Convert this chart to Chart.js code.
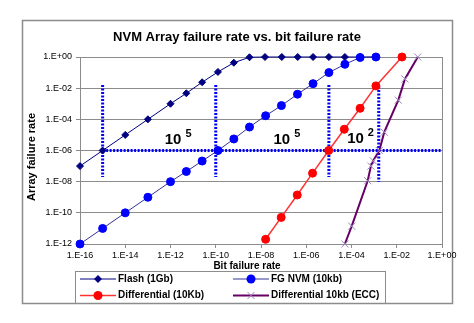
<!DOCTYPE html>
<html lang="en">
<head>
    <meta charset="UTF-8">
    <title>NVM Array failure rate vs. bit failure rate</title>
    <script src="https://cdn.jsdelivr.net/npm/chart.js"></script>
    <style>
        body {
            margin: 0;
            padding: 0;
            background: #ffffff;
        }
        canvas {
            display: block;
        }
    </style>
</head>
<body>
    <canvas id="failChart" width="474" height="323"></canvas>

    <script>
        // tick values / labels (every 2 decades)
        var xTickValues = [1e-16, 1e-14, 1e-12, 1e-10, 1e-8, 1e-6, 1e-4, 1e-2, 1];
        var xTickLabels = ['1.E-16', '1.E-14', '1.E-12', '1.E-10', '1.E-08', '1.E-06', '1.E-04', '1.E-02', '1.E+00'];
        var yTickValues = [1, 1e-2, 1e-4, 1e-6, 1e-8, 1e-10, 1e-12];
        var yTickLabels = ['1.E+00', '1.E-02', '1.E-04', '1.E-06', '1.E-08', '1.E-10', '1.E-12'];

        // Flash (1Gb)
        var flashX = [1e-16, 1e-15, 1e-14, 1e-13, 1e-12, 5e-12, 2.5e-11, 1.25e-10, 6.3e-10, 3.1e-9, 1.5e-8, 8.3e-8, 4.2e-7, 2e-6, 1e-5, 5.1e-5, 2.4e-4, 1.2e-3];
        var flashY = [1e-7, 1e-6, 1e-5, 1e-4, 1e-3, 4.7e-3, 2.4e-2, 0.11, 0.43, 0.96, 1, 1, 1, 1, 1, 1, 1, 1];

        // FG NVM (10kb)
        var fgX = [1e-16, 1e-15, 1e-14, 1e-13, 1e-12, 5e-12, 2.5e-11, 1.25e-10, 6.3e-10, 3.1e-9, 1.6e-8, 8e-8, 4.1e-7, 2e-6, 1e-5, 5.1e-5, 2.4e-4, 1.2e-3];
        var fgY = [1e-12, 1e-11, 1e-10, 1e-9, 1e-8, 4.5e-8, 2.1e-7, 1e-6, 5.5e-6, 3.2e-5, 1.7e-4, 7.6e-4, 4.1e-3, 1.95e-2, 0.1, 0.34, 0.93, 1];

        // Differential (10Kb)
        var diffX = [1.6e-8, 7.8e-8, 4e-7, 1.9e-6, 9.8e-6, 4.8e-5, 2.4e-4, 1.2e-3, 1.7e-2];
        var diffY = [2e-12, 5.1e-11, 1.4e-9, 3.5e-8, 1e-6, 2.3e-5, 5.1e-4, 1.4e-2, 1];

        // Differential 10kb (ECC)
        var eccX = [5.1e-5, 1.02e-4, 5.2e-4, 7.2e-4, 9.1e-4, 1.7e-3, 2.8e-3, 1.17e-2, 2.3e-2, 8.5e-2];
        var eccY = [1e-12, 1.4e-11, 1.15e-8, 1e-7, 2.2e-7, 1e-6, 1.5e-5, 1.7e-3, 3.9e-2, 1];

        // blue dotted guides
        var guideX = [1e-15, 1e-10, 1e-5, 1.6e-3];
        var guideTop = [1.6e-2, 1.6e-2, 1.6e-2, 1.3e-2];
        var guideBottom = [2e-8, 2e-8, 2e-8, 1e-8];
        var guideLevel = 1e-6;
        var guideFrom = 1e-15;
        var guideTo = 1;

        // ratio annotations (placed in data space)
        var ratioText = ['10', '10', '10'];
        var ratioExp = ['5', '5', '2'];
        var ratioX = [1.3e-12, 8.3e-8, 1.5e-4];
        var ratioY = [4.7e-6, 4.7e-6, 5.5e-6];

        var legendNames = ['Flash (1Gb)', 'FG NVM (10kb)', 'Differential (10Kb)', 'Differential 10kb (ECC)'];

        var FONT = 'Arial, "Liberation Sans", Helvetica, sans-serif';
        Chart.defaults.font.family = FONT;

        function pts(xs, ys) {
            return xs.map(function (x, i) { return { x: x, y: ys[i] }; });
        }

        var guideSets = guideX.map(function (gx, i) {
            return {
                data: [{ x: gx, y: guideTop[i] }, { x: gx, y: guideBottom[i] }],
                borderColor: '#0000ff',
                borderWidth: 3,
                borderDash: [2, 1.5],
                pointRadius: 0,
                clip: false,
                order: 5
            };
        });
        guideSets.push({
            data: [{ x: guideFrom, y: guideLevel }, { x: guideTo, y: guideLevel }],
            borderColor: '#0000ff',
            borderWidth: 3,
            borderDash: [2, 1.5],
            pointRadius: 0,
            clip: false,
            order: 5
        });

        var seriesStyle = [
            { color: '#000080', line: '#000080', lw: 1, style: 'rectRot', r: 3.5, pbw: 1 },
            { color: '#0000ff', line: '#333399', lw: 1, style: 'circle', r: 4, pbw: 1 },
            { color: '#ff0000', line: '#ff3333', lw: 1.5, style: 'circle', r: 4, pbw: 1 },
            { color: '#9988bb', line: '#660066', lw: 2, style: 'crossRot', r: 5, pbw: 1 }
        ];

        var seriesSets = [
            pts(flashX, flashY), pts(fgX, fgY), pts(diffX, diffY), pts(eccX, eccY)
        ].map(function (d, i) {
            var s = seriesStyle[i];
            return {
                label: legendNames[i],
                data: d,
                borderColor: s.line,
                borderWidth: s.lw,
                pointStyle: s.style,
                pointRadius: s.r,
                pointBackgroundColor: s.color,
                pointBorderColor: s.color,
                pointBorderWidth: s.pbw,
                clip: false,
                order: 4 - i
            };
        });

        function drawMarker(ctx, style, x, y, r, color) {
            ctx.save();
            ctx.fillStyle = color;
            ctx.strokeStyle = color;
            ctx.lineWidth = 1;
            ctx.beginPath();
            if (style === 'circle') {
                ctx.arc(x, y, r + 0.5, 0, Math.PI * 2);
                ctx.fill();
            } else if (style === 'rectRot') {
                ctx.moveTo(x, y - r - 0.5);
                ctx.lineTo(x + r + 0.5, y);
                ctx.lineTo(x, y + r + 0.5);
                ctx.lineTo(x - r - 0.5, y);
                ctx.closePath();
                ctx.fill();
            } else {
                var d = r * 0.7;
                ctx.moveTo(x - d, y - d); ctx.lineTo(x + d, y + d);
                ctx.moveTo(x + d, y - d); ctx.lineTo(x - d, y + d);
                ctx.stroke();
            }
            ctx.restore();
        }

        var decorPlugin = {
            id: 'decor',
            beforeDraw: function (chart) {
                var ctx = chart.ctx;
                ctx.save();
                ctx.fillStyle = '#ffffff';
                ctx.fillRect(0, 0, chart.width, chart.height);
                ctx.strokeStyle = '#8c8c8c';
                ctx.lineWidth = 1.5;
                ctx.strokeRect(22.5, 20.5, 430, 283);
                ctx.restore();
            },
            beforeDatasetsDraw: function (chart) {
                var a = chart.chartArea, ctx = chart.ctx;
                ctx.save();
                ctx.strokeStyle = '#8c8c8c';
                ctx.lineWidth = 1;
                ctx.strokeRect(a.left + 0.5, a.top + 0.5, a.right - a.left, a.bottom - a.top);
                ctx.restore();
            },
            afterDraw: function (chart) {
                var ctx = chart.ctx;
                var xs = chart.scales.x, ys = chart.scales.y;
                ctx.save();
                ctx.fillStyle = '#000';
                ctx.textBaseline = 'middle';

                // chart title
                ctx.textAlign = 'center';
                ctx.font = 'bold 13px ' + FONT;
                ctx.fillText('NVM Array failure rate vs. bit failure rate', 237, 37);

                // axis titles
                ctx.font = 'bold 10px ' + FONT;
                ctx.fillText('Bit failure rate', 247, 266);
                ctx.save();
                ctx.translate(32, 157);
                ctx.rotate(-Math.PI / 2);
                ctx.font = 'bold 11px ' + FONT;
                ctx.fillText('Array failure rate', 0, 0);
                ctx.restore();

                // ratio labels
                for (var i = 0; i < ratioText.length; i++) {
                    var px = xs.getPixelForValue(ratioX[i]);
                    var py = ys.getPixelForValue(ratioY[i]);
                    ctx.font = 'bold 15px ' + FONT;
                    ctx.textAlign = 'center';
                    ctx.fillText(ratioText[i], px, py);
                    var w = ctx.measureText(ratioText[i]).width;
                    ctx.font = 'bold 11px ' + FONT;
                    ctx.textAlign = 'left';
                    ctx.fillText(ratioExp[i], px + w / 2 + 4, py - 6);
                }

                // legend
                ctx.strokeStyle = '#8c8c8c';
                ctx.lineWidth = 1;
                ctx.strokeRect(75.5, 271.5, 310, 32);
                var colX = [80, 233];
                var rowY = [279, 295.5];
                ctx.font = 'bold 10px ' + FONT;
                ctx.textAlign = 'left';
                for (var k = 0; k < 4; k++) {
                    var s = seriesStyle[k];
                    var lx = colX[k % 2], ly = rowY[Math.floor(k / 2)];
                    ctx.save();
                    ctx.strokeStyle = s.line;
                    ctx.lineWidth = s.lw;
                    ctx.beginPath();
                    ctx.moveTo(lx, ly);
                    ctx.lineTo(lx + 36, ly);
                    ctx.stroke();
                    ctx.restore();
                    drawMarker(ctx, s.style, lx + 18, ly, s.r, s.color);
                    ctx.fillStyle = '#000';
                    ctx.fillText(legendNames[k], lx + 38, ly);
                }
                ctx.restore();
            }
        };

        var ctx = document.getElementById('failChart').getContext('2d');
        var failChart = new Chart(ctx, {
            type: 'line',
            data: { datasets: guideSets.concat(seriesSets) },
            plugins: [decorPlugin],
            options: {
                responsive: false,
                animation: false,
                devicePixelRatio: 1,
                layout: { padding: { left: 22, top: 57, right: 32, bottom: 59 } },
                plugins: {
                    legend: { display: false },
                    title: { display: false },
                    tooltip: { enabled: false }
                },
                elements: { line: { tension: 0 } },
                scales: {
                    x: {
                        type: 'logarithmic',
                        min: 1e-16,
                        max: 1,
                        afterBuildTicks: function (axis) {
                            axis.ticks = xTickValues.map(function (v) { return { value: v }; });
                        },
                        afterFit: function (axis) { axis.height = 20; },
                        ticks: {
                            autoSkip: false,
                            maxRotation: 0,
                            padding: 2,
                            color: '#000',
                            font: { size: 9 },
                            callback: function (v, i) { return xTickLabels[i]; }
                        },
                        grid: { drawOnChartArea: false, tickLength: 4, color: '#8c8c8c' },
                        border: { color: '#8c8c8c' }
                    },
                    y: {
                        type: 'logarithmic',
                        min: 1e-12,
                        max: 1,
                        afterBuildTicks: function (axis) {
                            axis.ticks = yTickValues.map(function (v) { return { value: v }; });
                        },
                        afterFit: function (axis) { axis.width = 58; },
                        ticks: {
                            autoSkip: false,
                            padding: 4,
                            color: '#000',
                            font: { size: 9 },
                            callback: function (v, i) { return yTickLabels[i]; }
                        },
                        grid: { tickLength: 4, color: '#8c8c8c' },
                        border: { color: '#8c8c8c' }
                    }
                }
            }
        });
    </script>
</body>
</html>
